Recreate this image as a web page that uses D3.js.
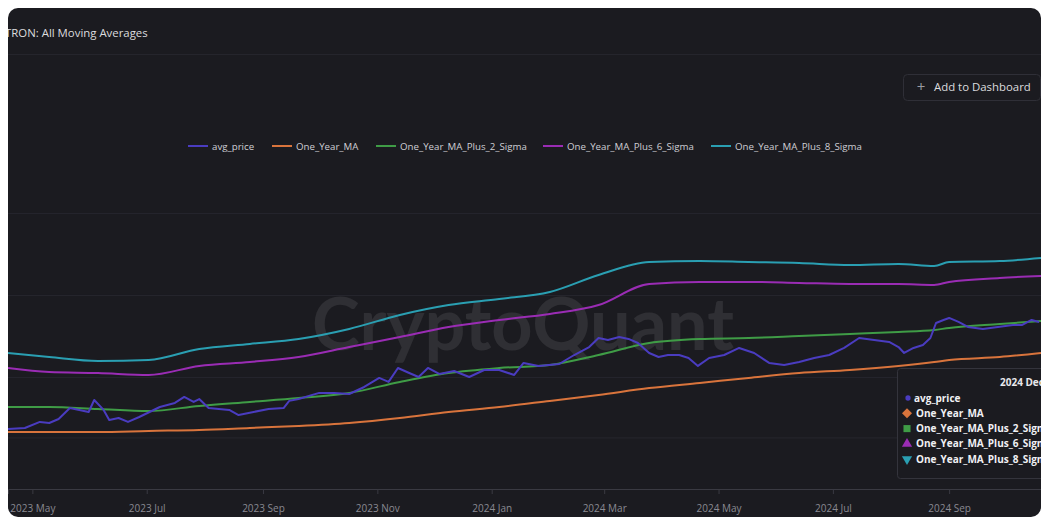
<!DOCTYPE html>
<html>
<head>
<meta charset="utf-8">
<script src="https://cdn.jsdelivr.net/npm/d3@7"></script>
<style>
  body { margin: 0; background: #fff; }
  text { font-family: "Open Sans", "Noto Sans", sans-serif; }
</style>
</head>
<body>
<script>
// series names + colours
var seriesNames = ["avg_price", "One_Year_MA", "One_Year_MA_Plus_2_Sigma", "One_Year_MA_Plus_6_Sigma", "One_Year_MA_Plus_8_Sigma"];
var seriesColors = ["#4a3cc0", "#d9743c", "#3f9c46", "#9a2cb4", "#2a9fb2"];

// dates for the smooth moving-average lines
var maDates = ["2023-04-18","2023-05-10","2023-06-05","2023-07-02","2023-07-29","2023-08-25","2023-09-20","2023-10-17",
  "2023-11-13","2023-12-09","2024-01-05","2024-02-01","2024-02-27","2024-03-25","2024-04-21","2024-05-17",
  "2024-06-13","2024-07-10","2024-08-05","2024-08-24","2024-09-01","2024-09-28","2024-10-20"];
var oneYearMA = [0.0628,0.0628,0.0628,0.0634,0.0639,0.0650,0.0661,0.0678,0.0707,0.0744,0.0776,0.0817,0.0859,0.0911,
  0.0951,0.0992,0.1034,0.1061,0.1098,0.1135,0.1154,0.1184,0.1225];
var plus2Sigma = [0.0776,0.0776,0.0763,0.0750,0.0783,0.0810,0.0837,0.0874,0.0959,0.1034,0.1079,0.1107,0.1204,0.1333,
  0.1379,0.1390,0.1414,0.1439,0.1463,0.1488,0.1513,0.1565,0.1605];
var plus6Sigma = [0.1079,0.1043,0.1034,0.1017,0.1098,0.1135,0.1184,0.1288,0.1402,0.1526,0.1619,0.1703,0.1837,0.2195,
  0.2233,0.2233,0.2214,0.2195,0.2195,0.2177,0.2233,0.2309,0.2349];
var plus8Sigma = [0.1225,0.1184,0.1145,0.1154,0.1267,0.1322,0.1379,0.1501,0.1689,0.1837,0.1933,0.2051,0.2368,0.2643,
  0.2665,0.2643,0.2621,0.2577,0.2599,0.2556,0.2643,0.2665,0.2734];

// avg_price (daily)
var priceDates = ["2023-04-18","2023-04-27","2023-05-05","2023-05-10","2023-05-15","2023-05-21","2023-05-26","2023-05-31",
  "2023-06-03","2023-06-08","2023-06-11","2023-06-16","2023-06-21","2023-06-27","2023-07-08","2023-07-16","2023-07-21",
  "2023-07-26","2023-07-29","2023-08-03","2023-08-14","2023-08-19","2023-08-27","2023-09-04","2023-09-12","2023-09-15",
  "2023-09-20","2023-10-01","2023-10-09","2023-10-17","2023-10-25","2023-11-02","2023-11-07","2023-11-12","2023-11-18",
  "2023-11-23","2023-11-28","2023-12-04","2023-12-12","2023-12-20","2023-12-28","2024-01-05","2024-01-13","2024-01-18",
  "2024-01-26","2024-02-06","2024-02-14","2024-02-22","2024-02-27","2024-03-03","2024-03-09","2024-03-14","2024-03-19",
  "2024-03-25","2024-03-30","2024-04-04","2024-04-10","2024-04-15","2024-04-20","2024-04-26","2024-05-04","2024-05-12",
  "2024-05-20","2024-05-28","2024-06-05","2024-06-13","2024-06-21","2024-06-29","2024-07-07","2024-07-15","2024-07-23",
  "2024-07-31","2024-08-05","2024-08-08","2024-08-13","2024-08-18","2024-08-22","2024-08-25","2024-08-29","2024-09-01",
  "2024-09-06","2024-09-11","2024-09-19","2024-09-27","2024-10-05","2024-10-10","2024-10-15","2024-10-19"];
var avgPrice = [0.0644,0.0650,0.0684,0.0678,0.0701,0.0769,0.0757,0.0744,0.0823,0.0757,0.0695,0.0707,0.0684,0.0713,
  0.0776,0.0803,0.0845,0.0810,0.0830,0.0769,0.0757,0.0725,0.0744,0.0763,0.0769,0.0817,0.0830,0.0874,0.0874,0.0866,
  0.0919,0.0992,0.0959,0.1079,0.1034,0.1000,0.1079,0.1026,0.1052,0.1000,0.1061,0.1061,0.1017,0.1126,0.1098,0.1116,
  0.1204,0.1288,0.1390,0.1367,0.1402,0.1379,0.1333,0.1225,0.1184,0.1204,0.1204,0.1174,0.1098,0.1174,0.1204,0.1278,
  0.1225,0.1126,0.1107,0.1135,0.1174,0.1204,0.1278,0.1390,0.1367,0.1344,0.1288,0.1225,0.1278,0.1311,0.1390,0.1578,
  0.1619,0.1647,0.1592,0.1526,0.1501,0.1526,0.1552,0.1552,0.1619,0.1592];

var xTicks = ["2023-05-01","2023-07-01","2023-09-01","2023-11-01","2024-01-01","2024-03-01","2024-05-01","2024-07-01","2024-09-01"];
var gridValues = [0.06, 0.1, 0.2, 0.4];

var W = 1052, H = 526;
var parse = d3.timeParse("%Y-%m-%d");

var svg = d3.select("body").append("svg")
    .attr("width", W)
    .attr("height", H);

// panel clip
svg.append("defs").append("clipPath").attr("id", "panel")
  .append("rect")
    .attr("x", 8).attr("y", 8)
    .attr("width", 1033).attr("height", 509)
    .attr("rx", 10);

var g = svg.append("g").attr("clip-path", "url(#panel)");

g.append("rect")
    .attr("x", 8).attr("y", 8)
    .attr("width", 1033).attr("height", 509)
    .attr("fill", "#1b1b20");

// header
g.append("text")
    .attr("x", 5).attr("y", 37)
    .attr("fill", "#dcdcdf")
    .style("font-size", "11.4px")
    .text("TRON: All Moving Averages");
g.append("line")
    .attr("x1", 8).attr("x2", 1041)
    .attr("y1", 54.5).attr("y2", 54.5)
    .attr("stroke", "#25252c");

// add to dashboard button
var btn = g.append("g");
btn.append("rect")
    .attr("x", 903.5).attr("y", 74.5)
    .attr("width", 137).attr("height", 26)
    .attr("rx", 4)
    .attr("fill", "none")
    .attr("stroke", "#2f2f37");
btn.append("text")
    .attr("x", 921).attr("y", 92)
    .attr("text-anchor", "middle")
    .attr("fill", "#9a9aa2")
    .style("font-size", "15px")
    .text("+");
btn.append("text")
    .attr("x", 934).attr("y", 91)
    .attr("fill", "#dcdcdf")
    .style("font-size", "11.4px")
    .text("Add to Dashboard");

// scales
var x = d3.scaleTime()
    .domain([parse("2023-04-18"), parse("2024-10-20")])
    .range([8, 1041]);
var y = d3.scaleLog()
    .domain([0.0388, 0.575])
    .range([489, 170]);

// gridlines
g.append("g")
    .attr("transform", "translate(8,0)")
    .call(d3.axisRight(y).tickValues(gridValues).tickSize(1033).tickFormat(""))
    .call(function(s) {
      s.select(".domain").remove();
      s.selectAll(".tick line").attr("stroke", "#26262d");
    });

// watermark
g.append("text")
    .attr("x", 523).attr("y", 350)
    .attr("text-anchor", "middle")
    .attr("fill", "#ffffff")
    .attr("fill-opacity", 0.09)
    .style("font-family", "Lato, sans-serif")
    .style("font-weight", 700)
    .style("font-size", "72px")
    .text("CryptoQuant");

// x axis
var xAxis = g.append("g")
    .attr("transform", "translate(0,489)")
    .call(d3.axisBottom(x)
        .tickValues(xTicks.map(parse))
        .tickFormat(d3.timeFormat("%Y %b"))
        .tickSize(5)
        .tickPadding(11));
xAxis.select(".domain").attr("stroke", "#3a3a42");
xAxis.selectAll(".tick line").attr("stroke", "#3a3a42");
xAxis.selectAll(".tick text")
    .attr("fill", "#8a8a92")
    .style("font-size", "10px");

// lines
var maSeries = [oneYearMA, plus2Sigma, plus6Sigma, plus8Sigma];
var smooth = d3.line()
    .x(function(d) { return x(d.date); })
    .y(function(d) { return y(d.value); })
    .curve(d3.curveMonotoneX);

maSeries.forEach(function(vals, i) {
  var pts = vals.map(function(v, j) { return {date: parse(maDates[j]), value: v}; });
  g.append("path")
      .datum(pts)
      .attr("fill", "none")
      .attr("stroke", seriesColors[i + 1])
      .attr("stroke-width", 2)
      .attr("d", smooth);
});

var pricePts = avgPrice.map(function(v, j) { return {date: parse(priceDates[j]), value: v}; });
g.append("path")
    .datum(pricePts)
    .attr("fill", "none")
    .attr("stroke", seriesColors[0])
    .attr("stroke-width", 2)
    .attr("stroke-linejoin", "round")
    .attr("d", d3.line()
        .x(function(d) { return x(d.date); })
        .y(function(d) { return y(d.value); }));

// legend
var legendX = [188, 272, 376, 543, 711];
seriesNames.forEach(function(name, i) {
  var lg = g.append("g").attr("transform", "translate(" + legendX[i] + ",146)");
  lg.append("line")
      .attr("x1", 0).attr("x2", 20)
      .attr("stroke", seriesColors[i])
      .attr("stroke-width", 2);
  lg.append("text")
      .attr("x", 24).attr("y", 3.5)
      .attr("fill", "#cfcfd4")
      .style("font-size", "9.7px")
      .text(name);
});

// tooltip
var tip = g.append("g").attr("transform", "translate(897,368)");
tip.append("rect")
    .attr("x", 0.5).attr("y", 0.5)
    .attr("width", 170).attr("height", 110)
    .attr("rx", 3)
    .attr("fill", "#1b1b20")
    .attr("stroke", "#34343c");
tip.append("text")
    .attr("x", 103).attr("y", 18)
    .attr("fill", "#e8e8ec")
    .style("font-size", "10px")
    .style("font-weight", 700)
    .text("2024 Dec");
var shapes = [d3.symbolCircle, d3.symbolSquare, d3.symbolSquare, d3.symbolTriangle, d3.symbolTriangle];
var sizes = [22, 50, 50, 45, 45];
var rots = [0, 45, 0, 0, 180];
seriesNames.forEach(function(name, i) {
  var ty = 30 + i * 15.3;
  tip.append("path")
      .attr("d", d3.symbol().type(shapes[i]).size(sizes[i]))
      .attr("transform", "translate(" + (i == 0 ? 11 : 10) + "," + ty + ") rotate(" + rots[i] + ")")
      .attr("fill", seriesColors[i]);
  tip.append("text")
      .attr("x", i == 0 ? 17 : 19).attr("y", ty + 3.5)
      .attr("fill", "#f0f0f4")
      .style("font-size", "10px")
      .style("font-weight", 700)
      .text(name);
});
</script>
</body>
</html>
